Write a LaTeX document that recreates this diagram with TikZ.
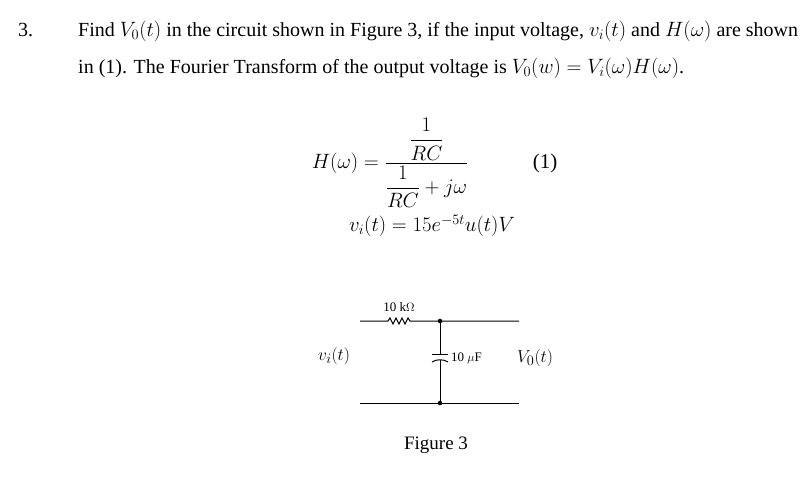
\documentclass[tikz,border=0pt]{standalone}
\usepackage{amsmath}
\usepackage{fontspec}
\setmainfont{Liberation Serif}
\begin{document}
\begin{tikzpicture}[x=1pt,y=-1pt,
  txt/.style={anchor=base west,inner sep=0pt,font=\fontsize{20}{22}\selectfont},
  eqf/.style={inner sep=0pt,font=\fontsize{21}{24}\selectfont},
  wire/.style={line width=1pt},
  lbl/.style={inner sep=0pt,font=\fontsize{13}{15}\selectfont},
  dot/.style={circle,fill,inner sep=1.6pt}]
\useasboundingbox (0,0) rectangle (810,493);
\node[txt] (num) at (18,36) {3.};
\node[txt] (l1) at (78,36) {Find $V_0(t)$ in the circuit shown in Figure 3, if the input voltage, $v_i(t)$ and $H(\omega)$ are shown};
\node[txt] (l2) at (78,73) {in (1). The Fourier Transform of the output voltage is $V_0(w)=V_i(\omega)H(\omega)$.};
\node[eqf] (eq1) at (390,163) {$H(\omega)=\dfrac{\dfrac{1}{RC}}{\dfrac{1}{RC}+j\omega}$};
\node[eqf] (eqn) at (545,163) {(1)};
\node[eqf] (eq2) at (432,226) {$v_i(t)=15e^{-5t}u(t)V$};
% circuit
\coordinate (tl) at (360,321);
\coordinate (r1) at (388,321);
\coordinate (r2) at (410,321);
\coordinate (tr) at (519,321);
\coordinate (bl) at (360,403);
\coordinate (br) at (519,403);
\node[dot] (jt) at (440,321) {};
\node[dot] (jb) at (440,403) {};
\coordinate (c1) at (440,354);
\coordinate (c2) at (440,360);
\draw[wire] (tl) -- (r1)
  -- ++(2,-3) -- ++(3,6) -- ++(3,-6) -- ++(3,6) -- ++(3,-6) -- ++(3,6) -- ++(3,-6) -- (r2) -- (tr);
\draw[wire] (jt) -- (c1);
\draw[wire] (c2) -- (jb);
\draw[wire] (432,354) -- (448,354);
\draw[wire] (432,362) .. controls (436,359) and (444,359) .. (448,362);
\draw[wire] (bl) -- (br);
\node[lbl] (rl) at (399,307) {10 k$\Omega$};
\node[lbl,anchor=west] (cl) at (451,358) {10 $\mu$F};
\node[eqf,font=\fontsize{19}{22}\selectfont] (vi) at (334,356) {$v_i(t)$};
\node[eqf,font=\fontsize{19}{22}\selectfont] (vo) at (535,358) {$V_0(t)$};
\node[inner sep=0pt,font=\fontsize{19}{22}\selectfont] (fig) at (436,445) {Figure 3};
\end{tikzpicture}
\end{document}
